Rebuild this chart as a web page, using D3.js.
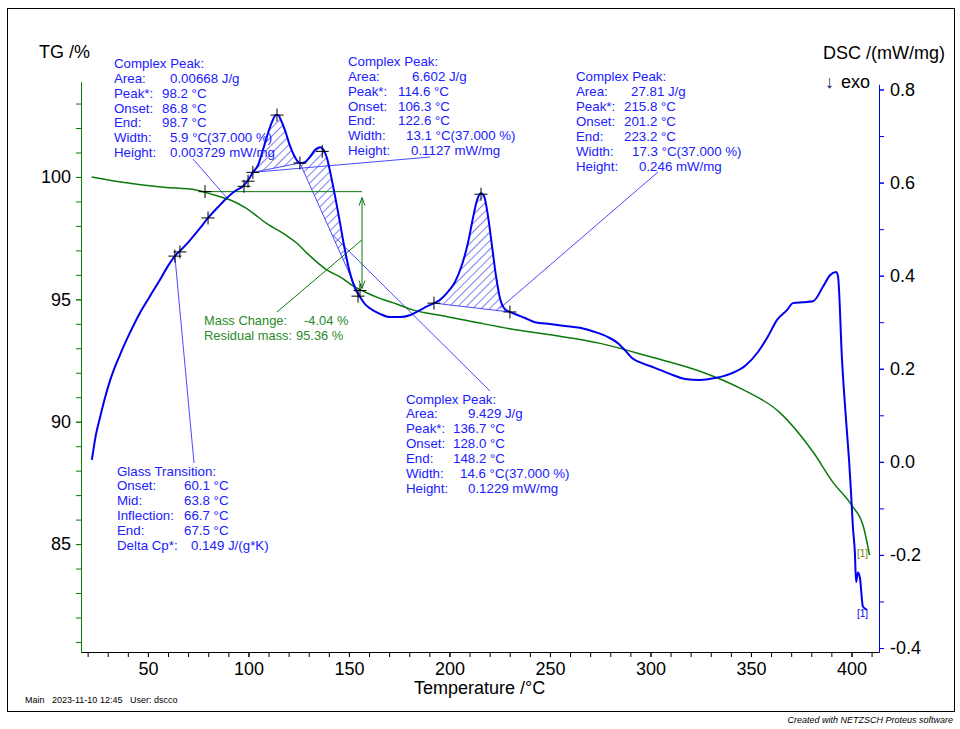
<!DOCTYPE html>
<html>
<head>
<meta charset="utf-8">
<script src="https://cdn.jsdelivr.net/npm/d3@7"></script>
<style>
body { margin: 0; background: #fff; }
text { font-family: "Liberation Sans", Arial, sans-serif; }
</style>
</head>
<body>
<svg id="chart" width="960" height="729"></svg>
<script>
//TG curve (mass %)
const TG_TEMP = [22, 41, 58, 74, 83, 91, 99, 109, 119, 124, 129, 139, 147, 152, 158, 165, 174, 182, 190, 199, 215, 230, 250, 275, 300, 325, 345, 364, 381, 391, 400, 406, 409];
const TG_VALUES = [100.0, 99.74, 99.58, 99.47, 99.26, 99.06, 98.72, 98.1, 97.6, 97.3, 96.9, 96.2, 95.85, 95.55, 95.3, 95.05, 94.8, 94.56, 94.42, 94.29, 94.03, 93.8, 93.55, 93.2, 92.65, 92.05, 91.35, 90.4, 88.75, 87.5, 86.6, 85.7, 84.55];

//DSC curve (mW/mg)
const DSC_TEMP = [22.1, 23.1, 24.1, 26.1, 28.6, 31.1, 36.1, 41.0, 46.0, 51.0, 56.0, 60.0, 63.4, 65.9, 70.9, 75.9, 79.9, 84.8, 89.3, 93.3, 97.3, 99.8, 102.2, 104.7, 107.2, 109.7, 111.7, 113.7, 114.7, 116.2, 118.2, 120.6, 123.1, 125.6, 128.1, 130.6, 133.1, 135.6, 137.1, 139.1, 141.0, 143.0, 145.5, 148.0, 150.5, 153.0, 155.5, 158.0, 160.4, 165.4, 170.4, 175.4, 180.3, 185.3, 189.3, 192.3, 195.3, 198.8, 202.7, 206.2, 209.2, 211.7, 213.7, 215.7, 217.2, 219.1, 221.1, 223.1, 225.1, 227.6, 230.1, 234.1, 237.6, 242.5, 250.0, 257.5, 264.9, 272.4, 278.9, 283.8, 287.3, 290.8, 295.8, 302.2, 309.7, 317.2, 324.6, 332.1, 339.6, 347.0, 353.5, 358.5, 363.0, 367.9, 370.9, 375.9, 380.9, 385.8, 389.3, 392.3, 393.3, 395.3, 397.8, 398.8, 399.8, 400.7, 401.7, 402.3, 403.2, 404.2, 405.7, 407.7];
const DSC_VALUES = [0.004, 0.032, 0.058, 0.094, 0.137, 0.174, 0.230, 0.277, 0.320, 0.356, 0.391, 0.421, 0.442, 0.453, 0.476, 0.502, 0.524, 0.547, 0.567, 0.582, 0.592, 0.605, 0.622, 0.637, 0.670, 0.706, 0.730, 0.745, 0.745, 0.734, 0.712, 0.680, 0.655, 0.642, 0.644, 0.655, 0.670, 0.676, 0.672, 0.652, 0.616, 0.573, 0.515, 0.455, 0.406, 0.373, 0.354, 0.339, 0.330, 0.318, 0.311, 0.311, 0.315, 0.326, 0.335, 0.341, 0.348, 0.363, 0.386, 0.423, 0.470, 0.524, 0.562, 0.577, 0.571, 0.530, 0.466, 0.401, 0.352, 0.328, 0.322, 0.315, 0.309, 0.300, 0.296, 0.292, 0.288, 0.279, 0.268, 0.255, 0.240, 0.223, 0.212, 0.202, 0.189, 0.178, 0.176, 0.180, 0.189, 0.206, 0.236, 0.270, 0.305, 0.326, 0.341, 0.343, 0.345, 0.376, 0.401, 0.408, 0.399, 0.219, 0.062, 0.004, -0.067, -0.139, -0.195, -0.258, -0.238, -0.249, -0.311, -0.318];

//Ticks
const X_TICKS = [50, 100, 150, 200, 250, 300, 350, 400];
const TG_TICKS = [85, 90, 95, 100];
const DSC_TICKS = [-0.4, -0.2, 0.0, 0.2, 0.4, 0.6, 0.8];

//Evaluation marks: crosses on the DSC curve [temp, mW/mg] and on the TG curve [temp, %]
const DSC_CROSSES = [[63.4, 0.442], [65.9, 0.451], [79.9, 0.524], [97.8, 0.592], [99.8, 0.603], [102.2, 0.622], [114.2, 0.745], [125.6, 0.642], [136.7, 0.667], [154.5, 0.356], [192.3, 0.341], [215.7, 0.575], [230.1, 0.322]];
const TG_CROSSES = [[78.4, 99.40], [155.5, 95.36]];

//Hatched peak ranges [start temp, end temp]
const PEAK_RANGES = [[102.2, 125.6], [125.6, 155.5], [192.3, 230.1]];

//Mass change step (TG)
const MASS_START = 99.40;
const MASS_END = 95.36;
const MASS_LINE_TEMP = [76, 156.5];

//Result texts
const PEAK1_TEXT = [["Complex Peak:", ""], ["Area:", "0.00668 J/g"], ["Peak*:", "98.2 °C"], ["Onset:", "86.8 °C"], ["End:", "98.7 °C"], ["Width:", "5.9 °C(37.000 %)"], ["Height:", "0.003729 mW/mg"]];
const PEAK2_TEXT = [["Complex Peak:", ""], ["Area:", "6.602 J/g"], ["Peak*:", "114.6 °C"], ["Onset:", "106.3 °C"], ["End:", "122.6 °C"], ["Width:", "13.1 °C(37.000 %)"], ["Height:", "0.1127 mW/mg"]];
const PEAK3_TEXT = [["Complex Peak:", ""], ["Area:", "27.81 J/g"], ["Peak*:", "215.8 °C"], ["Onset:", "201.2 °C"], ["End:", "223.2 °C"], ["Width:", "17.3 °C(37.000 %)"], ["Height:", "0.246 mW/mg"]];
const PEAK4_TEXT = [["Complex Peak:", ""], ["Area:", "9.429 J/g"], ["Peak*:", "136.7 °C"], ["Onset:", "128.0 °C"], ["End:", "148.2 °C"], ["Width:", "14.6 °C(37.000 %)"], ["Height:", "0.1229 mW/mg"]];
const GLASS_TEXT = [["Glass Transition:", ""], ["Onset:", "60.1 °C"], ["Mid:", "63.8 °C"], ["Inflection:", "66.7 °C"], ["End:", "67.5 °C"], ["Delta Cp*:", "0.149 J/(g*K)"]];
const MASS_TEXT = [["Mass Change:", "-4.04 %"], ["Residual mass:", "95.36 %"]];

const BLUE = "#0000f0";
const TEXT_BLUE = "#2020ff";
const LEADER_BLUE = "#4a4aff";
const GREEN = "#0b7a0b";
const TEXT_GREEN = "#2a8a2a";

const svg = d3.select("#chart");

//Scales
const x = d3.scaleLinear().domain([16.7, 413.7]).range([81, 879]);
const yTG = d3.scaleLinear().domain([80.59, 103.88]).range([652, 82]);
const yDSC = d3.scaleLinear().domain([-0.4, 0.8]).range([648, 89.5]);

//Outer frame
svg.append("rect").attr("x", 7.5).attr("y", 8.5).attr("width", 947).attr("height", 703)
	.attr("fill", "none").attr("stroke", "#000").attr("stroke-width", 1);

//Hatch pattern for the peak areas
svg.append("defs").append("pattern")
	.attr("id", "hatch")
	.attr("patternUnits", "userSpaceOnUse")
	.attr("width", 6).attr("height", 6)
	.attr("patternTransform", "rotate(45)")
	.append("line")
	.attr("x1", 0).attr("y1", 0).attr("x2", 0).attr("y2", 6)
	.attr("stroke", BLUE).attr("stroke-width", 1);

//Axes
const xAxisMinor = d3.axisBottom(x).tickValues(d3.range(20, 411, 10)).tickSize(5).tickFormat("").tickSizeOuter(0);
const xAxis = d3.axisBottom(x).tickValues(X_TICKS).tickSize(5).tickPadding(5).tickSizeOuter(0).tickFormat(d3.format("d"));
svg.append("g").attr("transform", "translate(0,652)").call(xAxisMinor);
const gx = svg.append("g").attr("transform", "translate(0,652)").call(xAxis);
gx.selectAll("text").attr("font-size", 18).attr("fill", "#000").attr("font-family", "Liberation Sans, Arial, sans-serif");
svg.selectAll(".domain").attr("stroke", "#000");

const tgMinor = d3.axisLeft(yTG).tickValues(d3.range(81, 104, 1)).tickSize(5).tickFormat("").tickSizeOuter(0);
const tgAxis = d3.axisLeft(yTG).tickValues(TG_TICKS).tickSize(5).tickPadding(5).tickSizeOuter(0).tickFormat(d3.format("d"));
const gtm = svg.append("g").attr("transform", "translate(81,0)").call(tgMinor);
const gt = svg.append("g").attr("transform", "translate(81,0)").call(tgAxis);
gtm.selectAll("line,path").attr("stroke", GREEN);
gt.selectAll("line,path").attr("stroke", GREEN);
gt.selectAll("text").attr("font-size", 18).attr("fill", "#000").attr("font-family", "Liberation Sans, Arial, sans-serif");

const dscMinor = d3.axisRight(yDSC).tickValues(d3.range(-4, 9).map(d => d / 10)).tickSize(5).tickFormat("").tickSizeOuter(0);
const dscAxis = d3.axisRight(yDSC).tickValues(DSC_TICKS).tickSize(5).tickPadding(6).tickSizeOuter(0).tickFormat(d3.format(".1f"));
const gdm = svg.append("g").attr("transform", "translate(879,0)").call(dscMinor);
const gd = svg.append("g").attr("transform", "translate(879,0)").call(dscAxis);
gdm.selectAll("line").attr("stroke", BLUE);
gd.selectAll("line").attr("stroke", BLUE);
gdm.select(".domain").remove();
gd.select(".domain").remove();
svg.append("line").attr("x1", 879.5).attr("x2", 879.5).attr("y1", yDSC(0.81)).attr("y2", 652).attr("stroke", BLUE);
gd.selectAll("text").attr("font-size", 18).attr("fill", "#000").attr("font-family", "Liberation Sans, Arial, sans-serif")
	.text(d => d3.format(".1f")(d).replace("−", "-"));

//Axis titles
svg.append("text").attr("x", 39).attr("y", 58).attr("font-size", 18).text("TG /%");
svg.append("text").attr("x", 945).attr("y", 59).attr("font-size", 18).attr("text-anchor", "end").text("DSC /(mW/mg)");
svg.append("text").attr("x", 825).attr("y", 88).attr("font-size", 18).attr("fill", "#202060").text("↓");
svg.append("text").attr("x", 841).attr("y", 88).attr("font-size", 18).text("exo");
svg.append("text").attr("x", x(215)).attr("y", 694).attr("font-size", 18).attr("text-anchor", "middle").text("Temperature /°C");

//Footer
svg.append("text").attr("x", 25).attr("y", 703).attr("font-size", 9).attr("xml:space", "preserve")
	.text("Main   2023-11-10 12:45   User: dscco");
svg.append("text").attr("x", 953).attr("y", 723).attr("font-size", 9).attr("font-style", "italic").attr("text-anchor", "end")
	.text("Created with NETZSCH Proteus software");

//Line generators
const dscPoints = DSC_TEMP.map((t, i) => [t, DSC_VALUES[i]]);
const tgPoints = TG_TEMP.map((t, i) => [t, TG_VALUES[i]]);
const dscLine = d3.line().x(d => x(d[0])).y(d => yDSC(d[1])).curve(d3.curveMonotoneX);
const tgLine = d3.line().x(d => x(d[0])).y(d => yTG(d[1])).curve(d3.curveMonotoneX);

//Hatched peak areas, closed by their straight baseline
for (const range of PEAK_RANGES)
{
	const part = dscPoints.filter(p => p[0] >= range[0] - 0.01 && p[0] <= range[1] + 0.01);
	svg.append("path").attr("d", dscLine(part) + "Z")
		.attr("fill", "url(#hatch)").attr("stroke", "none");
	svg.append("line")
		.attr("x1", x(part[0][0])).attr("y1", yDSC(part[0][1]))
		.attr("x2", x(part[part.length - 1][0])).attr("y2", yDSC(part[part.length - 1][1]))
		.attr("stroke", LEADER_BLUE).attr("stroke-width", 1);
}

//Leader lines from the result texts
function leader(x1, y1, x2, y2, color)
{
	svg.append("line").attr("x1", x1).attr("y1", y1).attr("x2", x2).attr("y2", y2)
		.attr("stroke", color).attr("stroke-width", 1);
}
leader(193, 159, x(89.3), yDSC(0.567), LEADER_BLUE);
leader(430, 157, x(102.2), yDSC(0.622), LEADER_BLUE);
leader(658, 172, x(225.1), yDSC(0.33), LEADER_BLUE);
leader(490, 391, x(142), yDSC(0.487), LEADER_BLUE);
leader(194, 463, x(63.4), yDSC(0.442), LEADER_BLUE);
leader(277, 312, x(156.5), yTG(97.43), GREEN);

//Mass change: reference line and double arrow
leader(x(MASS_LINE_TEMP[0]), yTG(MASS_START), x(MASS_LINE_TEMP[1]), yTG(MASS_START), GREEN);
const ax = x(MASS_LINE_TEMP[1]);
leader(ax, yTG(MASS_START) + 6, ax, yTG(MASS_END) - 2, GREEN);
svg.append("path").attr("d", `M${ax - 3},${yTG(MASS_START) + 14}L${ax},${yTG(MASS_START) + 6}L${ax + 3},${yTG(MASS_START) + 14}`)
	.attr("fill", "none").attr("stroke", GREEN);
svg.append("path").attr("d", `M${ax - 3},${yTG(MASS_END) - 10}L${ax},${yTG(MASS_END) - 2}L${ax + 3},${yTG(MASS_END) - 10}`)
	.attr("fill", "none").attr("stroke", GREEN);

//Curves
svg.append("path").attr("d", tgLine(tgPoints)).attr("fill", "none").attr("stroke", GREEN).attr("stroke-width", 1.5);
svg.append("path").attr("d", dscLine(dscPoints)).attr("fill", "none").attr("stroke", BLUE).attr("stroke-width", 2);

//Curve end labels
svg.append("text").attr("x", 857).attr("y", 557).attr("font-size", 10).attr("fill", "#7a7a00").text("[1]");
svg.append("text").attr("x", 857).attr("y", 617).attr("font-size", 10).attr("fill", BLUE).text("[1]");

//Crosses
function cross(cx, cy)
{
	svg.append("path").attr("d", `M${cx - 6.5},${cy}H${cx + 6.5}M${cx},${cy - 6.5}V${cy + 6.5}`)
		.attr("stroke", "#000").attr("stroke-width", 1).attr("fill", "none");
}
for (const c of DSC_CROSSES)
	cross(x(c[0]), yDSC(c[1]));
for (const c of TG_CROSSES)
	cross(x(c[0]), yTG(c[1]));

//Result text blocks
function textBlock(lines, bx, by, step, offsets, color, size)
{
	const g = svg.append("g").attr("font-size", size).attr("fill", color);
	lines.forEach((l, i) =>
	{
		g.append("text").attr("x", bx).attr("y", by + i * step).text(l[0]);
		if (l[1])
			g.append("text").attr("x", bx + offsets[i]).attr("y", by + i * step).text(l[1]);
	});
}
textBlock(PEAK1_TEXT, 114, 68, 14.85, [0, 56, 48, 48, 48, 56, 56], TEXT_BLUE, 13.3);
textBlock(PEAK2_TEXT, 348, 66, 14.85, [0, 64, 50, 50, 50, 58, 63], TEXT_BLUE, 13.3);
textBlock(PEAK3_TEXT, 576, 81, 14.95, [0, 55, 48, 48, 48, 56, 63], TEXT_BLUE, 13.3);
textBlock(PEAK4_TEXT, 406, 403.5, 14.85, [0, 62, 47, 47, 47, 54, 62], TEXT_BLUE, 13.3);
textBlock(GLASS_TEXT, 117, 475.5, 14.9, [0, 67, 67, 67, 67, 74], TEXT_BLUE, 13.3);
textBlock(MASS_TEXT, 204, 324.5, 15.7, [100, 92], TEXT_GREEN, 12.9);
</script>
</body>
</html>
